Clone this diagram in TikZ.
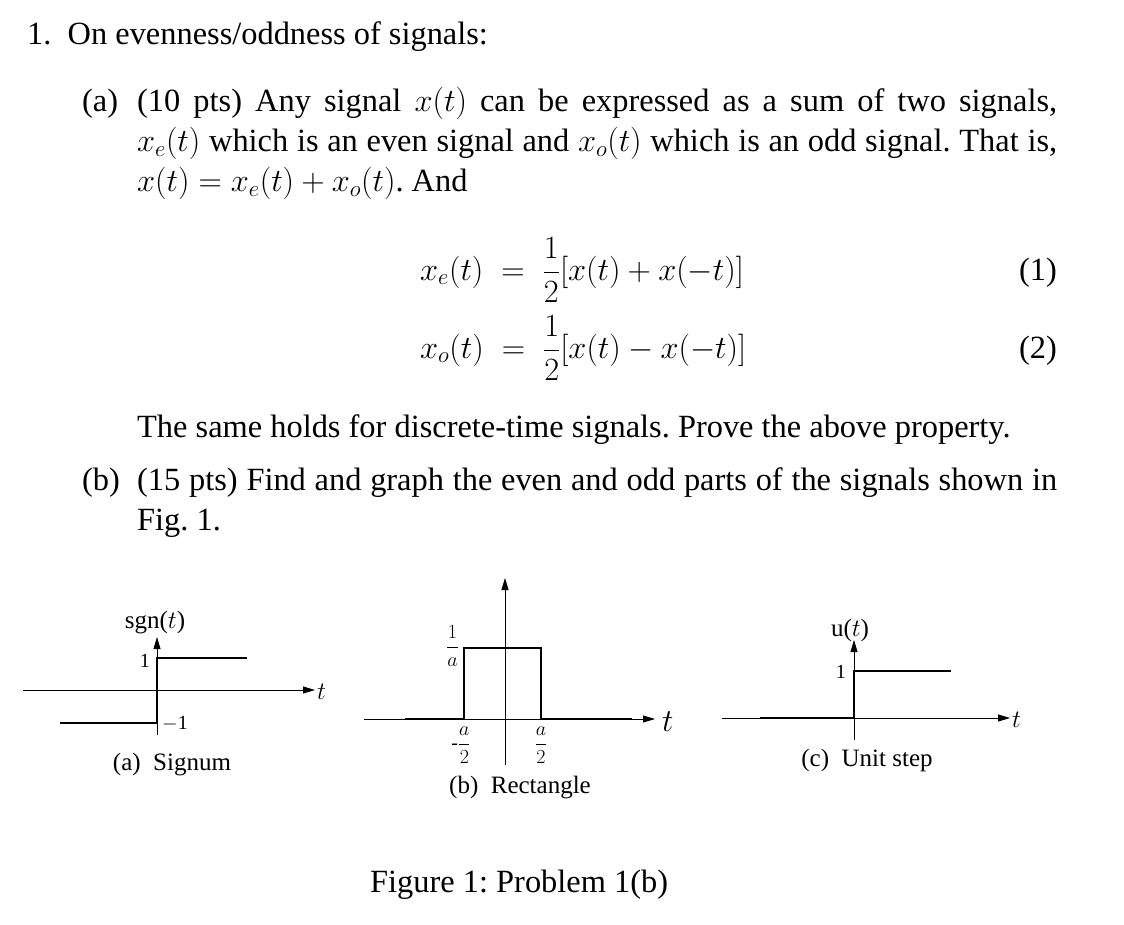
\RequirePackage{fix-cm}
\documentclass[tikz,border=0pt]{standalone}
\usepackage{fontspec}
\setmainfont{Liberation Serif}
\usetikzlibrary{arrows.meta}
\begin{document}
\begin{tikzpicture}[x=1pt,y=-1pt,
  body/.style={anchor=base west,inner sep=0pt,font=\fontsize{32.4}{38}\selectfont\frenchspacing},
  small/.style={inner sep=0pt,font=\fontsize{25}{30}\selectfont},
  frac/.style={inner sep=0pt,font=\fontsize{20}{24}\selectfont},
  axis/.style={line width=0.8pt,-{Triangle[length=12pt,width=7pt]}},
  sig/.style={line width=2.2pt}]
\useasboundingbox (0,0) rectangle (1124,925);
\node[body] (l1) at (27,45) {1.\ \ On evenness/oddness of signals:};
\node[body] (a1) at (82,112) {(a)};
\node[body] (a1t) at (137,112) {\makebox[920pt][s]{(10 pts) Any signal $x(t)$ can be expressed as a sum of two signals,}};
\node[body] (a2) at (137,152) {\makebox[920pt][s]{$x_e(t)$ which is an even signal and $x_o(t)$ which is an odd signal. That is,}};
\node[body] (a3) at (137,192) {$x(t)=x_e(t)+x_o(t)$. And};
\node[body] (e1) at (420,280) {$\displaystyle x_e(t)\;=\;\frac{1}{2}[x(t)+x(-t)]$};
\node[body] (e2) at (420,358) {$\displaystyle x_o(t)\;=\;\frac{1}{2}[x(t)-x(-t)]$};
\node[body,anchor=base east] (n1) at (1057,280) {(1)};
\node[body,anchor=base east] (n2) at (1057,358) {(2)};
\node[body] (s1) at (137,437) {The same holds for discrete-time signals. Prove the above property.};
\node[body] (b1) at (82,490) {(b)};
\node[body] (b1t) at (137,490) {\makebox[920pt][s]{(15 pts) Find and graph the even and odd parts of the signals shown in}};
\node[body] (b2) at (137,530) {Fig. 1.};
\node[body] (cap) at (370,892) {Figure 1: Problem 1(b)};
% signum
\draw[axis] (23,690) -- (315,690);
\draw[axis] (157,735) -- (157,637);
\draw[sig] (60,723) -- (157,723) -- (157,658) -- (247,658);
\node[small,anchor=west] (st) at (317,692) {$t$};
\node[small,anchor=base] (sl) at (155,628) {sgn($t$)};
\node[frac,anchor=east] (s1l) at (150,661) {1};
\node[frac,anchor=west] (sm1) at (162,724) {$-$1};
\node[small,anchor=base] (sc) at (172,770) {(a)\ \ Signum};
% rectangle
\draw[axis] (364,719) -- (655,719);
\draw[axis] (505,765) -- (505,578);
\draw[sig] (405,719) -- (464,719) -- (464,648) -- (541,648) -- (541,719) -- (632,719);
\node[inner sep=0pt,font=\fontsize{32}{32}\selectfont,anchor=west] (rt) at (662,722) {$t$};
\node[frac,anchor=east] (ra) at (459,646) {$\displaystyle\frac{1}{a}$};
\node[frac,anchor=north] (rl) at (461,727) {-$\displaystyle\frac{a}{2}$};
\node[frac,anchor=north] (rr) at (541,727) {$\displaystyle\frac{a}{2}$};
\node[small,anchor=base] (rc) at (520,793) {(b)\ \ Rectangle};
% unit step
\draw[axis] (722,718) -- (1010,718);
\draw[axis] (854,740) -- (854,640);
\draw[sig] (760,718) -- (854,718) -- (854,671) -- (951,671);
\node[small,anchor=west] (ut) at (1012,720) {$t$};
\node[small,anchor=base] (ul) at (850,636) {u($t$)};
\node[frac,anchor=east] (u1) at (846,672) {1};
\node[small,anchor=base] (uc) at (867,766) {(c)\ \ Unit step};
\end{tikzpicture}
\end{document}
